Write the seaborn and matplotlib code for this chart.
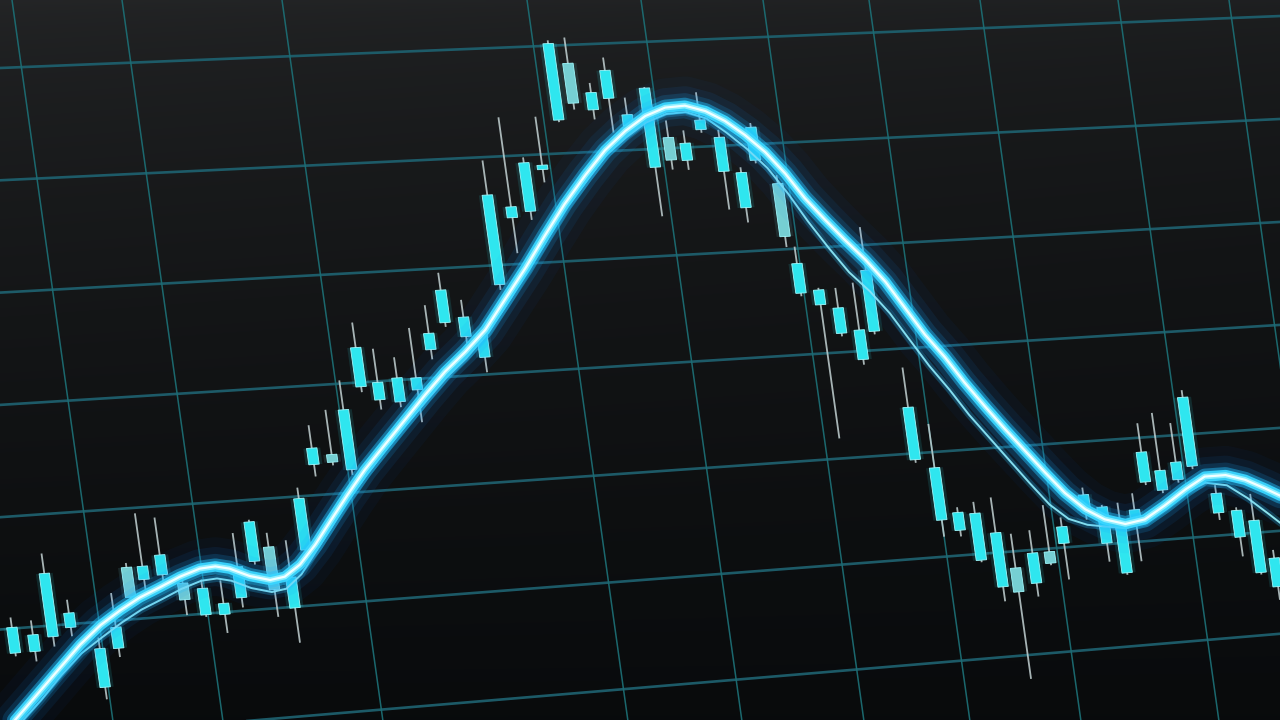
import numpy as np
import pandas as pd
import matplotlib
matplotlib.use("Agg")
import matplotlib.pyplot as plt
import seaborn as sns
from matplotlib.transforms import Transform

# ---------------- data (price in grid units, time position along the chart) -------------
candle_t = [12, 32, 52, 71, 97, 116, 135, 151, 170, 189, 208, 227, 246, 264, 280, 298, 317,
            337, 356, 374, 395, 412, 432, 451, 470, 488, 507, 523, 548, 570, 589, 607, 630,
            647, 666, 683, 699, 720, 737, 753, 771, 788, 805, 821, 840, 848, 866, 883, 901,
            916, 939, 957, 974, 991, 1009, 1024, 1043, 1060, 1076, 1102, 1119, 1135, 1151,
            1166, 1182, 1199, 1215, 1235, 1253, 1269, 1284]
opens = [7.8, 7.8, 9.0, 9.7, 4.1, 7.5, 14.7, 13.5, 13.8, 12.9, 9.9, 9.8, 11.2, 14.4, 15.6,
         9.9, 15.1, 22.8, 23.6, 22.1, 29.6, 28.3, 28.0, 29.0, 32.6, 35.0, 33.6, 31.6, 38.2,
         44.3, 44.8, 48.6, 53.1, 58.3, 53.9, 54.9, 52.3, 48.3, 51.0, 48.8, 51.6, 47.6, 44.1,
         48.5, 46.2, 35.8, 34.6, 31.8, 29.2, 31.8, 19.4, 13.5, 12.4, 9.4, 6.7, 8.4, 6.8, 9.7,
         10.4, 13.4, 10.1, 7.1, 12.1, 15.7, 14.8, 15.7, 16.9, 12.2, 9.7, 6.1, 4.6]
closes = [10.1, 9.3, 14.7, 11.0, 7.6, 9.4, 12.0, 14.7, 15.6, 11.4, 12.3, 10.8, 14.0, 18.0,
          11.7, 12.7, 19.8, 24.3, 22.9, 27.6, 33.2, 29.9, 30.2, 30.1, 34.1, 38.0, 35.4, 33.8,
          46.5, 45.3, 49.3, 49.0, 60.2, 54.6, 55.5, 57.5, 53.3, 55.7, 48.9, 50.4, 52.5, 50.8,
          47.4, 51.6, 41.2, 38.6, 36.0, 34.2, 32.0, 37.6, 24.4, 18.5, 14.1, 13.9, 11.9, 6.1,
          9.7, 8.6, 12.0, 14.9, 13.6, 11.5, 13.1, 18.6, 16.7, 17.4, 23.6, 14.1, 12.3, 11.2, 7.4]
highs = [11.0, 10.6, 16.5, 12.2, 8.6, 12.5, 15.1, 19.5, 19.0, 13.4, 13.1, 12.9, 17.1, 18.2,
         16.9, 16.1, 20.8, 26.4, 27.7, 30.3, 35.5, 33.0, 32.1, 34.7, 36.7, 39.6, 37.0, 34.1,
         49.7, 53.6, 49.8, 53.5, 60.5, 60.7, 56.4, 58.7, 54.9, 55.8, 52.6, 51.6, 55.1, 51.5,
         47.9, 52.0, 47.0, 40.2, 36.2, 36.1, 36.5, 41.7, 28.2, 22.7, 14.6, 15.0, 15.3, 11.7,
         11.9, 14.2, 12.9, 15.6, 13.8, 13.9, 14.7, 21.4, 22.3, 21.2, 24.3, 14.9, 12.6, 13.8, 8.2]
lows = [7.5, 6.9, 8.1, 8.9, 3.0, 6.7, 11.8, 12.6, 13.1, 10.0, 9.7, 8.1, 10.3, 14.1, 9.2, 6.7,
        14.2, 21.7, 22.6, 21.6, 29.1, 27.4, 27.5, 26.0, 31.7, 34.6, 33.0, 30.2, 37.7, 41.0,
        44.0, 47.4, 52.9, 54.0, 53.0, 51.7, 52.2, 43.7, 48.0, 47.9, 51.3, 44.0, 42.7, 48.2,
        40.2, 35.5, 21.9, 31.5, 28.7, 31.5, 19.1, 11.9, 11.8, 9.2, 5.3, -2.3, 5.5, 8.4, 6.9,
        12.5, 8.3, 6.9, 8.1, 15.4, 14.5, 15.4, 16.6, 11.5, 7.8, 5.9, 3.3]

ma_t = [2, 31, 55, 78, 101, 123, 144, 166, 187, 208, 224, 238, 257, 277, 292, 309, 327, 345,
        366, 387, 411, 434, 458, 481, 504, 527, 551, 576, 600, 624, 649, 672, 695, 717, 738,
        758, 778, 796, 814, 832, 849, 865, 882, 899, 917, 934, 950, 966, 983, 999, 1016, 1033,
        1050, 1067, 1084, 1102, 1120, 1140, 1160, 1182, 1205, 1226, 1247, 1266, 1285, 1299]
ma_fast = [1.8, 4.2, 6.2, 8.1, 9.7, 10.9, 11.9, 12.7, 13.5, 14.1, 14.2, 13.9, 13.1, 12.6, 12.8,
           13.8, 15.5, 17.5, 19.8, 22.0, 24.2, 26.3, 28.5, 30.5, 32.2, 34.1, 36.8, 39.6, 42.5,
           45.3, 47.9, 50.1, 51.8, 53.1, 53.8, 53.9, 53.3, 52.3, 50.9, 49.2, 47.1, 44.7, 42.6,
           40.6, 38.6, 36.4, 33.8, 31.2, 28.9, 26.4, 24.0, 21.7, 19.5, 17.3, 15.2, 13.5, 12.4,
           11.8, 12.1, 13.3, 14.7, 15.8, 15.8, 15.2, 14.2, 13.4]
ma_slow = [1.1, 3.4, 5.5, 7.3, 8.6, 9.8, 10.8, 11.6, 12.4, 13.0, 13.1, 12.8, 12.0, 11.5, 11.7,
           12.9, 14.9, 16.9, 19.3, 21.4, 23.7, 25.8, 27.9, 29.9, 31.6, 33.6, 36.2, 39.1, 41.9,
           44.8, 47.3, 49.6, 51.2, 52.5, 53.2, 53.3, 52.6, 51.2, 49.6, 47.7, 45.2, 42.5, 39.9,
           37.5, 35.6, 33.4, 30.8, 28.2, 25.8, 23.3, 21.0, 18.7, 16.4, 14.2, 12.7, 12.0, 11.7,
           11.4, 11.8, 13.0, 14.4, 15.2, 14.8, 13.4, 11.7, 10.4]

price_grid = [0, 10, 20, 30, 40, 50, 60]
time_grid = [100, 210, 370, 615, 729, 851, 957, 1068, 1206, 1317]


# ---------------- perspective plane: (time, price) -> screen pixels -------------------
class PlanePerspective(Transform):
    input_dims = 2
    output_dims = 2
    is_separable = False
    has_inverse = False

    def transform_non_affine(self, values):
        v = np.asarray(values, dtype=float).reshape(-1, 2)
        t, p = v[:, 0], v[:, 1]
        k = (60.0 - p) / 10.0
        A = 68.0 + 112.3 * k
        B = 0.0406 + 0.0073 * k
        x = (t - 88.0 + 0.14 * A) / (1.0 + 0.14 * B)
        y = A - B * x
        return np.column_stack([x, y])


sns.set_theme(style="dark")
fig = plt.figure(figsize=(12.8, 7.2), dpi=100)
ax = fig.add_axes([0, 0, 1, 1])
ax.set_axis_off()
ax.autoscale(False)
ax.set_xlim(0, 1280)
ax.set_ylim(720, 0)
T = PlanePerspective() + ax.transData

# background gradient
yy = np.linspace(0, 1, 200)[:, None]
xx = np.linspace(0, 1, 320)[None, :]
top = np.array([0.140, 0.145, 0.150])
bot = np.array([0.035, 0.043, 0.048])
mix = np.clip(yy ** 0.65 + 0.2 * xx * (1 - yy), 0, 1)
bg = top[None, None, :] * (1 - mix[..., None]) + bot[None, None, :] * mix[..., None]
ax.imshow(bg, extent=(0, 1280, 720, 0), aspect="auto", zorder=0, interpolation="bilinear")

# grid
for p in price_grid:
    ax.plot([-300, 1600], [p, p], color="#1e5f6d", lw=1.9, alpha=0.95, transform=T, zorder=1)
for tg in time_grid:
    ax.plot([tg, tg], [-15, 75], color="#1c6d73", lw=1.1, alpha=0.95, transform=T, zorder=1)

# candles
df = pd.DataFrame({"t": candle_t, "open": opens, "close": closes, "high": highs, "low": lows})
df["bottom"] = df[["open", "close"]].min(axis=1)
df["height"] = (df["close"] - df["open"]).abs().clip(lower=0.35)
df["up"] = df["close"] >= df["open"]
colors = np.where(df["up"], "#2fe6ef", "#76cfd3")

ax.vlines(df["t"], df["low"], df["high"], colors="#c3d2d3", lw=1.3, alpha=0.85,
          transform=T, zorder=2)
ax.bar(df["t"], df["height"], bottom=df["bottom"], width=17, color=colors, alpha=0.13,
       transform=T, zorder=2.5, linewidth=0)
ax.bar(df["t"], df["height"], bottom=df["bottom"], width=10.5, color=colors,
       edgecolor="#9ff7fb", linewidth=0.6, transform=T, zorder=3)

# moving averages (glowing)
ma = pd.DataFrame({"t": ma_t, "fast": ma_fast, "slow": ma_slow})


def glow_line(col, layers):
    for lw, color, alpha, z in layers:
        n0 = len(ax.lines)
        sns.lineplot(data=ma, x="t", y=col, ax=ax, sort=False, estimator=None,
                     color=color, lw=lw, alpha=alpha, zorder=z, legend=False)
        for ln in ax.lines[n0:]:
            ln.set_transform(T)
            ln.set_solid_capstyle("round")
            ln.set_solid_joinstyle("round")


glow_line("slow", [(5, "#2bc8ff", 0.25, 4), (1.4, "#9af3f7", 0.95, 4.1)])
glow_line("fast", [(42, "#0a6cff", 0.04, 5), (28, "#1290ff", 0.08, 5.1),
                   (18, "#1aacff", 0.16, 5.2), (11.5, "#22c2ff", 0.45, 5.3),
                   (7.5, "#3ad6ff", 0.95, 5.4), (4.0, "#8eefff", 1.0, 5.5),
                   (1.6, "#f2ffff", 1.0, 5.6)])

ax.set_xlim(0, 1280)
ax.set_ylim(720, 0)
fig.savefig("out.png", dpi=100, facecolor="#111314")
